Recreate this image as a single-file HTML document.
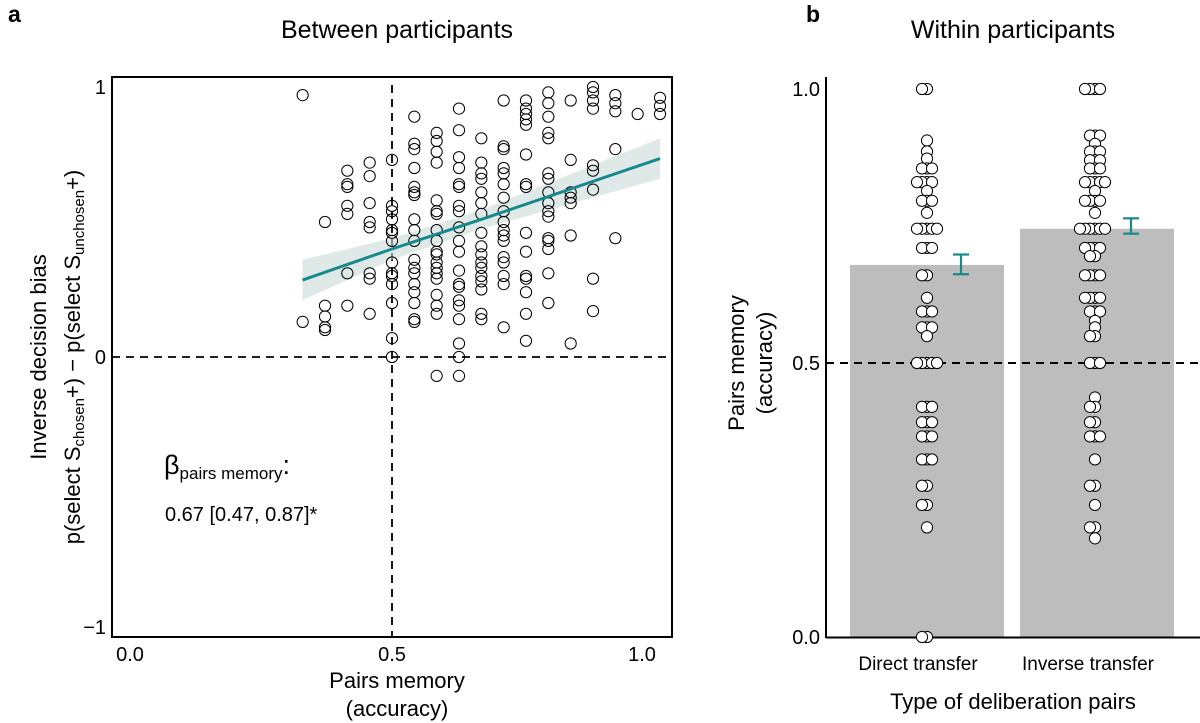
<!DOCTYPE html>
<html><head><meta charset="utf-8">
<style>
html,body{margin:0;padding:0;background:#fff;}
svg{display:block;font-family:"Liberation Sans",Arial,sans-serif;}
</style></head>
<body>
<svg id="chart" width="1200" height="723" viewBox="0 0 1200 723" xmlns="http://www.w3.org/2000/svg">
  <text x="8" y="22" font-size="23" font-weight="bold">a</text>
  <text x="806" y="22" font-size="23" font-weight="bold">b</text>
  <text x="397" y="38" font-size="25" text-anchor="middle">Between participants</text>
  <text x="1013" y="38" font-size="25" text-anchor="middle">Within participants</text>

  <g id="left"></g>
  <g id="right"></g>

  <text transform="translate(46,357) rotate(-90)" font-size="22" text-anchor="middle">Inverse decision bias</text>
  <text transform="translate(80,357) rotate(-90)" font-size="22" text-anchor="middle">p(select S<tspan font-size="15" dy="4">chosen</tspan><tspan dy="-4">+) − p(select S</tspan><tspan font-size="15" dy="4">unchosen</tspan><tspan dy="-4">+)</tspan></text>
  <text x="397" y="688" font-size="22" text-anchor="middle">Pairs memory</text>
  <text x="397" y="716" font-size="22" text-anchor="middle">(accuracy)</text>
  <text x="164" y="474" font-size="27">β<tspan font-size="17" dy="5">pairs memory</tspan><tspan dy="-5">:</tspan></text>
  <text x="165" y="521" font-size="20">0.67 [0.47, 0.87]*</text>

  <text transform="translate(744,363) rotate(-90)" font-size="22" text-anchor="middle">Pairs memory</text>
  <text transform="translate(772,363) rotate(-90)" font-size="22" text-anchor="middle">(accuracy)</text>
  <text x="1013" y="709" font-size="22" text-anchor="middle">Type of deliberation pairs</text>
</svg>
<script>
// ---- Panel a data ----
const scatterCols = [8,9,10,11,12,13,14,15,16,17,18,19,20,21,22,23,24]; // numerator of k/24
const scatterY = [
 [0.97,0.13],
 [0.50,0.19,0.15,0.11,0.10],
 [0.69,0.64,0.63,0.56,0.53,0.31,0.19],
 [0.72,0.67,0.57,0.50,0.48,0.31,0.29,0.16],
 [0.73,0.56,0.54,0.51,0.47,0.46,0.43,0.35,0.31,0.30,0.27,0.20,0.07,0.0],
 [0.89,0.79,0.77,0.70,0.63,0.61,0.60,0.51,0.47,0.43,0.36,0.33,0.31,0.27,0.24,0.20,0.14,0.13],
 [0.83,0.80,0.76,0.72,0.58,0.54,0.53,0.47,0.43,0.39,0.38,0.35,0.33,0.31,0.29,0.23,0.19,0.16,-0.07],
 [0.92,0.84,0.74,0.70,0.64,0.63,0.56,0.54,0.48,0.43,0.39,0.32,0.27,0.26,0.21,0.19,0.14,0.05,0.0,-0.07],
 [0.81,0.72,0.68,0.66,0.61,0.57,0.53,0.46,0.41,0.38,0.35,0.33,0.30,0.28,0.25,0.16,0.14],
 [0.95,0.78,0.77,0.70,0.68,0.64,0.59,0.54,0.50,0.47,0.45,0.43,0.37,0.35,0.30,0.27,0.11],
 [0.95,0.92,0.90,0.88,0.86,0.75,0.64,0.63,0.46,0.39,0.30,0.29,0.24,0.16,0.06],
 [0.98,0.94,0.89,0.83,0.81,0.68,0.66,0.61,0.57,0.54,0.52,0.44,0.43,0.40,0.31,0.20],
 [0.95,0.73,0.61,0.59,0.57,0.45,0.05],
 [1.0,0.98,0.95,0.92,0.71,0.69,0.62,0.29,0.17],
 [0.97,0.94,0.91,0.77,0.44],
 [0.90],
 [0.96,0.93,0.90]
];
const fitX = [0.333, 0.5, 0.667, 1.0];
const fitMid = [0.285, 0.40, 0.51, 0.735];
const fitLo = [0.21, 0.36, 0.475, 0.66];
const fitHi = [0.36, 0.44, 0.545, 0.81];
const xTicksA = ["0.0","0.5","1.0"];
const xTickValsA = [0.0,0.5,1.0];
const yTicksA = ["1","0","−1"];
const yTickValsA = [1,0,-1];

// ---- Panel b data ----
const barCats = ["Direct transfer","Inverse transfer"];
const barMeans = [0.679, 0.745];
const barErrLo = [0.662, 0.736];
const barErrHi = [0.698, 0.764];
const directVals = [1,1,0.906,0.886,0.873,0.855,0.855,0.855,0.83,0.83,0.83,0.83,0.814,0.796,0.796,0.796,0.774,0.745,0.745,0.745,0.745,0.745,0.71,0.71,0.71,0.66,0.66,0.619,0.594,0.594,0.594,0.565,0.565,0.565,0.549,0.5,0.5,0.5,0.5,0.5,0.42,0.42,0.42,0.392,0.392,0.392,0.366,0.366,0.366,0.324,0.324,0.324,0.276,0.276,0.241,0.241,0.2,0,0];
const inverseVals = [1,1,1,1,0.915,0.915,0.915,0.9,0.886,0.886,0.886,0.87,0.87,0.87,0.855,0.855,0.855,0.83,0.83,0.83,0.83,0.83,0.814,0.796,0.796,0.796,0.796,0.774,0.745,0.745,0.745,0.745,0.745,0.745,0.71,0.71,0.71,0.71,0.695,0.695,0.66,0.66,0.66,0.66,0.619,0.619,0.619,0.619,0.594,0.594,0.594,0.577,0.565,0.549,0.549,0.5,0.5,0.5,0.437,0.42,0.42,0.392,0.392,0.366,0.366,0.366,0.324,0.276,0.276,0.241,0.2,0.2,0.18];
const yTicksB = ["0.0","0.5","1.0"];
const yTickValsB = [0,0.5,1];

const NS = "http://www.w3.org/2000/svg";
function mk(tag, attrs, parent){const e=document.createElementNS(NS,tag);for(const k in attrs)e.setAttribute(k,attrs[k]);parent.appendChild(e);return e;}

// Panel a scales
const xA = v => 124 + v*536;
const yA = v => 357 - v*270;
const L = document.getElementById('left');
let frame = mk('rect',{x:112,y:77,width:560,height:560,fill:'none',stroke:'#000','stroke-width':2},L);


let hz = mk('line',{x1:112,x2:672,y1:yA(0),y2:yA(0),stroke:'#000','stroke-width':1.8,'stroke-dasharray':'8,6'},L);


let vz = mk('line',{x1:xA(0.5),x2:xA(0.5),y1:85,y2:637,stroke:'#000','stroke-width':1.8,'stroke-dasharray':'8,6'},L);


let bandPts = fitX.map((x,i)=>xA(x)+','+yA(fitHi[i])).concat(fitX.slice().reverse().map((x,j)=>{const i=fitX.length-1-j;return xA(x)+','+yA(fitLo[i]);}));
let band = mk('polygon',{points:bandPts.join(' '),fill:'#c9dcd9','fill-opacity':0.6},L);


scatterCols.forEach((k,ci)=>{
  scatterY[ci].forEach(v=>{
    let c = mk('circle',{cx:xA(k/24),cy:yA(v),r:5.6,fill:'none',stroke:'#000','stroke-width':1},L);
    
    
  });
});
let fit = mk('polyline',{points:fitX.map((x,i)=>xA(x)+','+yA(fitMid[i])).join(' '),fill:'none',stroke:'#17898a','stroke-width':3},L);


xTicksA.forEach((t,i)=>{
  const px = i===0?130:(i===2?642:xA(xTickValsA[i]));
  let e = mk('text',{x:px,y:661,'font-size':20,'text-anchor':'middle'},L);
  e.textContent=t;
  
  
});
yTicksA.forEach((t,i)=>{
  let e = mk('text',{x:106,y:yA(yTickValsA[i])+7,'font-size':20,'text-anchor':'end'},L);
  e.textContent=t;
  
  
});

// Panel b scales
const yB = v => 637 - v*548;
const catX = [927, 1097];
const barW = 154;
const R = document.getElementById('right');
barCats.forEach((c,i)=>{
  let b = mk('rect',{x:catX[i]-77,y:yB(barMeans[i]),width:barW,height:yB(0)-yB(barMeans[i]),fill:'#bdbdbd'},R);
  
  
});
let hb = mk('line',{x1:826,x2:1200,y1:yB(0.5),y2:yB(0.5),stroke:'#000','stroke-width':2,'stroke-dasharray':'8,6'},R);


let ax = mk('line',{x1:826,x2:1200,y1:637.5,y2:637.5,stroke:'#000','stroke-width':2},R);


let ay = mk('line',{x1:826,x2:826,y1:77,y2:638,stroke:'#000','stroke-width':2},R);


[directVals,inverseVals].forEach((vals,gi)=>{
  const counts={};
  vals.forEach(v=>{
    const n = counts[v]||0; counts[v]=n+1;
    const off = (n%2===0?1:-1)*Math.ceil(n/2)*5 + (gi===1?-2:0);
    let c = mk('circle',{cx:catX[gi]+off,cy:yB(v),r:5.6,fill:'#fff',stroke:'#000','stroke-width':1},R);
    
    
  });
});
barCats.forEach((c,i)=>{
  const ex = catX[i]+34;
  let g = mk('g',{stroke:'#17898a','stroke-width':2.2},R);
  
  
  mk('line',{x1:ex,x2:ex,y1:yB(barErrHi[i]),y2:yB(barErrLo[i])},g);
  mk('line',{x1:ex-8,x2:ex+8,y1:yB(barErrHi[i]),y2:yB(barErrHi[i])},g);
  mk('line',{x1:ex-8,x2:ex+8,y1:yB(barErrLo[i]),y2:yB(barErrLo[i])},g);
  let t = mk('text',{x:catX[i]-9,y:670,'font-size':19,'text-anchor':'middle'},R);
  t.textContent=c;
  
  
});
yTicksB.forEach((t,i)=>{
  let e = mk('text',{x:820,y:yB(yTickValsB[i])+7,'font-size':20,'text-anchor':'end'},R);
  e.textContent=t;
  
  
});
</script>
</body></html>
